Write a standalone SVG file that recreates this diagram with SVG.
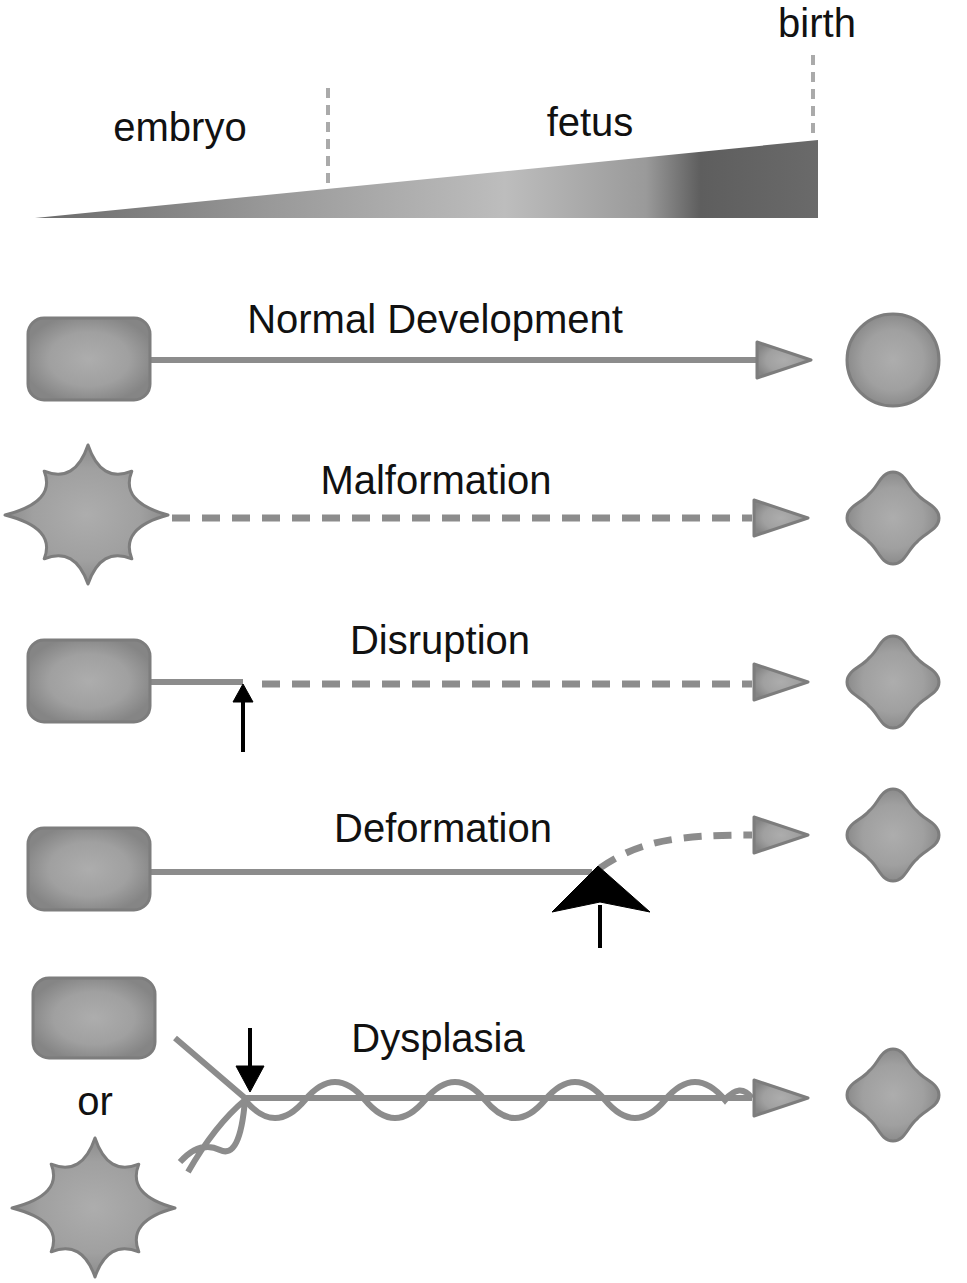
<svg xmlns="http://www.w3.org/2000/svg" width="967" height="1283" viewBox="0 0 967 1283">
<defs>
<radialGradient id="g" cx="50%" cy="50%" r="55%"><stop offset="0" stop-color="#adadad"/><stop offset="0.6" stop-color="#a0a0a0"/><stop offset="1" stop-color="#858585"/></radialGradient>
<linearGradient id="tl" x1="35" y1="0" x2="818" y2="0" gradientUnits="userSpaceOnUse"><stop offset="0" stop-color="#6a6a6a"/><stop offset="0.3" stop-color="#999"/><stop offset="0.6" stop-color="#bdbdbd"/><stop offset="0.78" stop-color="#9a9a9a"/><stop offset="0.85" stop-color="#5e5e5e"/><stop offset="1" stop-color="#6a6a6a"/></linearGradient>
<path id="dia" d="M0,-46 C-12,-46 -15,-31 -24,-24 C-31,-15 -46,-12 -46,0 C-46,12 -31,15 -24,24 C-15,31 -12,46 0,46 C12,46 15,31 24,24 C31,15 46,12 46,0 C46,-12 31,-15 24,-24 C15,-31 12,-46 0,-46 Z"/>
<path id="star" d="M80,0 Q31.4,13 43.8,43.8 Q13,31.4 0,69 Q-13,31.4 -43.8,43.8 Q-31.4,13 -83,0 Q-31.4,-13 -43.8,-43.8 Q-13,-31.4 0,-70 Q13,-31.4 43.8,-43.8 Q31.4,-13 80,0 Z"/>
<path id="arr" d="M0,-18 L54,0 L0,18 Z"/>
</defs>
<style>
.sh{fill:url(#g);stroke:#7d7d7d;stroke-width:3;stroke-linejoin:round}
.ln{fill:none;stroke:#8c8c8c;stroke-width:6}
.ds{fill:none;stroke:#8c8c8c;stroke-width:7;stroke-dasharray:18 12}
.t{font-family:"Liberation Sans",Arial,sans-serif;font-size:40px;fill:#111;text-anchor:middle}
.blk{fill:#000;stroke:#000}
.vd{stroke:#aaa;stroke-width:4;stroke-dasharray:10 7}
</style>
<g id="timeline">
<polygon points="35,218 818,140 818,218" fill="url(#tl)"/>
<line class="vd" x1="328" y1="88" x2="328" y2="190"/>
<line class="vd" x1="813" y1="55" x2="813" y2="140"/>
<text class="t" x="180" y="141">embryo</text>
<text class="t" x="590" y="136">fetus</text>
<text class="t" x="817" y="37">birth</text>
</g>
<g id="connectors">
<line class="ln" x1="150" y1="360" x2="760" y2="360"/>
<line class="ds" x1="172" y1="518" x2="752" y2="518"/>
<line class="ln" x1="150" y1="682" x2="243" y2="682" stroke-width="7"/>
<line class="ds" x1="262" y1="684" x2="752" y2="684"/>
<line class="ln" x1="150" y1="872" x2="592" y2="872"/>
<path class="ds" d="M600,868 C640,840 680,835 752,835" stroke-dasharray="16 11"/>
<path class="ln" d="M175,1038 L245,1098 L752,1098"/>
<path class="ln" d="M245,1100 Q275,1136 305,1100 T365,1100 T425,1100 T485,1100 T545,1100 T605,1100 T665,1100 T725,1100 Q740,1082 752,1098"/>
<path class="ln" d="M180,1162 Q200,1140 220,1150 Q240,1160 245,1100 M188,1172 Q215,1125 245,1100"/>
<line x1="243" y1="752" x2="243" y2="700" stroke="#000" stroke-width="4"/>
<polygon class="blk" points="233,702 243,684 253,702"/>
<line x1="600" y1="948" x2="600" y2="905" stroke="#000" stroke-width="4"/>
<polygon class="blk" points="552,912 598,866 650,912 600,902"/>
<line x1="250" y1="1028" x2="250" y2="1072" stroke="#000" stroke-width="4"/>
<polygon class="blk" points="236,1066 250,1092 264,1066"/>
</g>
<g id="n1"><rect class="sh" x="28" y="318" width="122" height="82" rx="16"/><text class="t" x="435" y="333">Normal Development</text><use href="#arr" class="sh" x="757" y="360"/><circle class="sh" cx="893" cy="360" r="46"/></g>
<g id="n2"><use href="#star" class="sh" x="88" y="515"/><text class="t" x="436" y="494">Malformation</text><use href="#arr" class="sh" x="754" y="518"/><use href="#dia" class="sh" x="893" y="518"/></g>
<g id="n3"><rect class="sh" x="28" y="640" width="122" height="82" rx="16"/><text class="t" x="440" y="654">Disruption</text><use href="#arr" class="sh" x="754" y="682"/><use href="#dia" class="sh" x="893" y="682"/></g>
<g id="n4"><rect class="sh" x="28" y="828" width="122" height="82" rx="16"/><text class="t" x="443" y="842">Deformation</text><use href="#arr" class="sh" x="754" y="835"/><use href="#dia" class="sh" x="893" y="835"/></g>
<g id="n5"><rect class="sh" x="33" y="978" width="122" height="80" rx="16"/><text class="t" x="95" y="1115">or</text><use href="#star" class="sh" x="95" y="1208"/><text class="t" x="438" y="1052">Dysplasia</text><use href="#arr" class="sh" x="754" y="1098"/><use href="#dia" class="sh" x="893" y="1095"/></g>
</svg>
